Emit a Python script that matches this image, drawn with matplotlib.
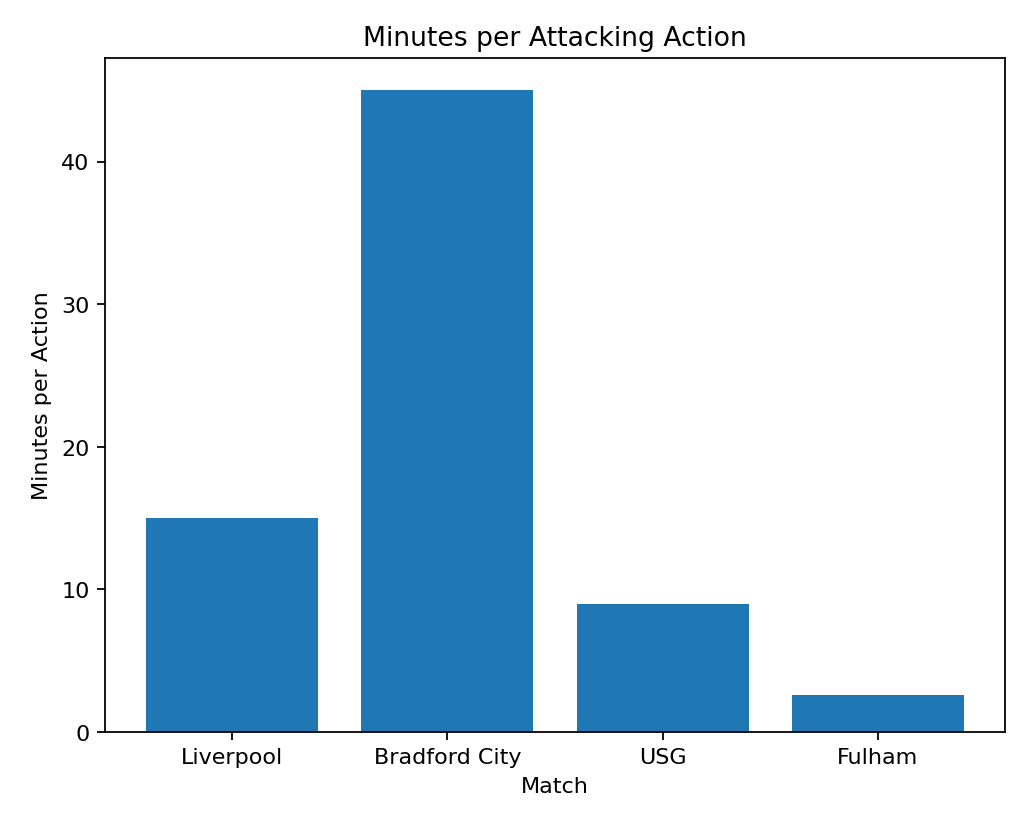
import matplotlib
matplotlib.use("Agg")
import matplotlib.pyplot as plt

matches = ["Liverpool", "Bradford City", "USG", "Fulham"]
minutes_per_action = [15, 45, 9, 2.6]

fig, ax = plt.subplots(figsize=(6.4, 5.18), dpi=160)
fig.subplots_adjust(left=105 / 1024, right=1005 / 1024, top=1 - 59 / 829, bottom=1 - 733 / 829)

ax.bar(matches, minutes_per_action, color="#1f77b4")
ax.set_title("Minutes per Attacking Action")
ax.set_xlabel("Match")
ax.set_ylabel("Minutes per Action")

fig.savefig("out.png", dpi=160)
